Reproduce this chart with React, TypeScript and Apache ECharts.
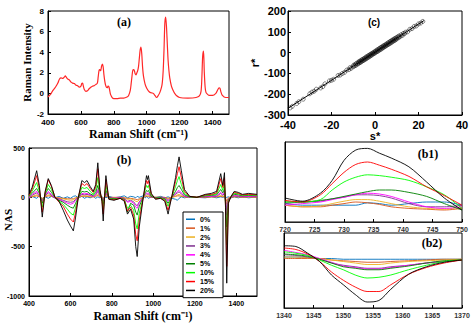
import React, { useEffect, useRef } from 'react';
import * as echarts from 'echarts';

// ---------- Panel (a): Raman spectrum ----------
const RAMAN_X = [400,415,430,445,460,470,480,490,500,505,512,520,530,540,550,560,570,580,590,600,605,610,615,620,630,640,650,660,670,680,690,700,705,710,715,720,725,730,735,740,745,750,755,760,765,770,775,780,790,800,820,840,860,880,890,900,905,910,915,920,925,930,935,940,945,950,955,960,965,970,975,980,990,1000,1010,1020,1030,1040,1050,1060,1070,1080,1090,1095,1100,1105,1110,1115,1120,1125,1130,1135,1140,1150,1160,1170,1180,1200,1250,1300,1320,1330,1335,1340,1345,1350,1355,1360,1370,1380,1400,1420,1430,1435,1440,1445,1450,1460,1480,1500];
const RAMAN_Y = [-0.35,-0.1,0.3,0.6,1.0,1.4,1.5,1.45,1.6,1.7,1.55,1.4,1.3,1.1,1.0,0.95,0.8,0.75,0.6,0.7,0.95,1.0,0.7,0.4,0.2,0.25,0.45,0.6,0.7,0.75,0.85,1.0,1.6,2.2,2.3,2.2,2.6,2.85,2.6,1.8,1.2,0.8,0.6,0.55,0.7,0.65,0.3,-0.1,-0.4,-0.5,-0.5,-0.45,-0.45,-0.35,-0.2,0.3,0.9,1.6,2.2,2.3,2.2,1.9,1.8,2.0,2.2,2.6,3.4,4.2,4.5,3.8,2.5,1.7,0.9,0.5,0.25,0.1,0.05,0.0,-0.2,-0.4,-0.2,0.1,0.6,1.1,2.2,4.2,6.8,7.4,6.5,4.8,3.2,2.2,1.5,0.7,0.3,0.0,-0.2,-0.4,-0.45,-0.4,-0.25,0.2,1.5,3.6,4.1,2.0,0.6,0.1,-0.1,-0.2,-0.2,0.0,0.3,0.45,0.55,0.5,0.2,-0.2,-0.4,-0.4];

// ---------- Legend / concentrations ----------
const LABELS = ['0%', '1%', '2%', '3%', '4%', '5%', '10%', '15%', '20%'];
const COLORS = ['#0072BD', '#D95319', '#EDB120', '#7E2F8E', '#FF00FF', '#008000', '#00FF00', '#FF0000', '#000000'];

// ---------- Panel (b): NAS ----------
const NAS_X = [400,415,437,450,464,478,493,508,525,545,565,585,600,614,625,638,655,668,680,695,710,722,732,742,752,758,765,771,785,810,840,860,875,890,905,915,922,932,950,962,967,972,976,990,1010,1035,1055,1071,1090,1107,1116,1124,1135,1150,1175,1210,1250,1280,1305,1325,1335,1343,1348,1354,1362,1375,1390,1410,1430,1460,1500];
const NAS_0 = [-5,10,-10,15,-15,5,-10,10,-5,10,-10,5,-10,10,15,-5,10,-10,5,-5,10,-10,5,-5,10,-10,5,-5,10,-5,5,15,-5,10,5,-5,10,0,15,-5,10,0,-10,5,-5,10,-5,5,-10,-20,-30,-10,5,-5,5,0,-5,5,-5,5,0,5,-5,0,5,-5,5,-5,5,-5,5];
const NAS_1 = [0,5,15,5,-10,5,15,10,0,-5,-10,-15,-15,-15,-5,0,10,10,10,5,5,10,20,5,0,-10,0,10,0,0,0,-5,-10,-10,-15,-20,-25,-15,0,10,10,10,10,0,0,0,0,-10,0,10,15,15,10,5,0,0,0,5,5,10,5,10,-5,-40,-5,0,5,5,0,5,0];
const NAS_2 = [5,10,25,10,-15,10,25,15,0,-10,-15,-25,-30,-25,-10,5,15,15,15,10,5,15,35,10,0,-15,5,20,0,-5,0,-5,-20,-15,-25,-40,-45,-25,0,15,20,15,20,5,0,0,-5,-15,0,15,25,30,20,5,0,0,5,5,5,20,10,20,-10,-70,-10,0,10,5,5,5,5];
const NAS_3 = [-10,20,45,15,-30,15,45,20,-5,-15,-30,-45,-50,-45,-20,0,30,25,30,20,10,25,60,15,-5,-30,5,35,0,-10,-5,-10,-40,-30,-45,-75,-85,-45,0,25,35,30,35,5,0,0,-5,-30,5,30,45,55,35,10,0,0,5,10,10,40,20,40,-20,-130,-15,0,15,10,5,10,5];
const NAS_4 = [0,30,60,20,-40,20,60,30,-10,-20,-40,-60,-70,-60,-30,0,40,35,40,25,10,30,80,20,-10,-40,5,45,-5,-10,-5,-15,-50,-40,-60,-100,-110,-60,0,35,45,40,45,5,-5,0,-10,-40,5,40,60,70,45,15,0,0,10,10,15,50,30,55,-25,-180,-20,0,20,15,10,10,10];
const NAS_5 = [10,40,90,40,-60,30,90,50,0,-30,-50,-80,-100,-110,-60,0,60,55,60,35,20,50,120,30,-10,-70,5,70,-5,-15,-10,-20,-150,-60,-80,-150,-180,-90,-5,50,70,60,70,10,-5,-5,-15,-60,5,60,100,120,80,25,5,0,15,20,25,80,45,85,-40,-300,-30,5,30,25,15,20,15];
const NAS_10 = [15,60,150,60,-100,40,130,80,0,-40,-70,-120,-160,-180,-100,0,100,90,100,60,30,80,200,50,-20,-120,10,120,-10,-20,-10,-25,-110,-80,-130,-270,-320,-160,-10,90,120,100,120,20,-10,-5,-20,-90,10,110,170,210,130,40,5,0,20,25,35,130,70,140,-60,-480,-40,5,40,35,20,25,20];
const NAS_15 = [20,80,220,90,-150,50,180,110,5,-50,-90,-170,-220,-250,-150,5,140,120,140,90,50,110,290,70,-30,-170,15,180,-15,-25,-10,-30,-140,-100,-180,-380,-440,-230,-15,120,170,140,170,30,-15,-10,-30,-130,15,160,240,310,200,60,10,0,25,30,45,190,100,200,-80,-700,-50,10,50,40,25,30,25];
const NAS_20 = [30,100,270,120,-200,60,190,120,0,-40,-130,-230,-290,-340,-200,0,170,150,170,110,60,130,350,80,-40,-240,20,220,-20,-30,-10,-40,-170,-120,-220,-500,-600,-300,-20,150,220,180,220,40,-20,-10,-40,-170,20,200,320,410,270,80,10,0,30,40,60,240,120,250,-100,-870,-60,10,60,50,30,40,30];
const NAS_SERIES = [NAS_0, NAS_1, NAS_2, NAS_3, NAS_4, NAS_5, NAS_10, NAS_15, NAS_20];

// ---------- Panel (b1): zoom 720-750 ----------
const B1_X = [720,723,726,728,730,732,734,736,738,741,744,747,750];
const B1_0 = [23,21,21,21,21,21,24,23,21,23,25,25,21];
const B1_1 = [21,19,19,21,23,25,24,22,19,17,16,15,17];
const B1_2 = [21,19,20,23,26,28,28,26,23,19,17,16,19];
const B1_3 = [23,25,26,29,31,34,34,33,30,23,19,19,21];
const B1_4 = [21,23,25,28,31,34,36,35,32,25,19,17,19];
const B1_5 = [25,25,27,29,32,35,38,40,40,37,32,23,15];
const B1_10 = [25,25,28,40,50,56,59,58,56,52,44,34,17];
const B1_15 = [27,25,34,48,62,72,75,71,66,57,44,33,21];
const B1_20 = [30,26,36,52,77,90,92,86,80,69,50,30,15];
const B1_SERIES = [B1_0, B1_1, B1_2, B1_3, B1_4, B1_5, B1_10, B1_15, B1_20];

// ---------- Panel (b2): zoom 1340-1370 ----------
const B2_X = [1340,1342,1344,1346,1348,1350,1352,1354,1356,1358,1361,1364,1367,1370];
const B2_0 = [68,68,67,66,66,65,65,65,65,65,65,65,65,65];
const B2_1 = [66,66,66,66,64,63,62,61,61,62,63,64,65,65];
const B2_2 = [68,68,67,66,64,62,60,58,58,60,62,63,64,65];
const B2_3 = [71,70,68,65,60,57,55,53,53,55,57,60,62,64];
const B2_4 = [77,74,71,66,61,56,54,52,52,54,57,60,62,64];
const B2_5 = [72,71,69,65,60,55,53,51,51,53,56,60,63,64];
const B2_10 = [75,73,70,64,57,51,44,40,41,44,51,57,62,64];
const B2_15 = [80,78,72,62,48,37,28,22,22,31,45,54,60,64];
const B2_20 = [83,82,73,62,44,31,18,8,10,25,45,55,61,64];
const B2_SERIES = [B2_0, B2_1, B2_2, B2_3, B2_4, B2_5, B2_10, B2_15, B2_20];

// ---------- Panel (c): r* vs s* ----------
const SCAT_S = [-39,-38,-36,-35,-33,-30,-29,-28,-27,-25,-24,-23,-21,-20,-19,-17,-16,-15,-14,-13,-12,-11.5,-11,-10,-9.8,-9.5,-9,-8.8,-8.5,-8,-7.8,-7.5,-7.2,-7,-6.8,-6.5,-6.2,-6,-5.8,-5.5,-5.2,-5,-4.8,-4.5,-4.2,-4,-3.8,-3.5,-3.2,-3,-2.8,-2.5,-2.2,-2,-1.8,-1.5,-1.2,-1,-0.8,-0.5,-0.2,0,0.2,0.5,0.8,1,1.2,1.5,1.8,2,2.2,2.5,2.8,3,3.2,3.5,3.8,4,4.2,4.5,4.8,5,5.2,5.5,5.8,6,6.2,6.5,6.8,7,7.2,7.5,7.8,8,8.2,8.5,8.8,9,9.2,9.5,9.8,10,10.5,10.8,11,11.5,12,12.5,13,13.5,14,15,16,17,18,19,20,21,22];
const SCAT_R = [-266,-258,-245,-236,-224,-198,-190,-186,-176,-170,-164,-150,-136,-133,-128,-110,-108,-100,-95,-84,-82,-72,-76,-68,-60,-64,-56,-62,-52,-55,-46,-52,-42,-48,-40,-46,-36,-42,-33,-38,-30,-36,-27,-32,-22,-29,-20,-25,-16,-22,-13,-19,-9,-15,-6,-12,-3,-8,0,-5,4,-2,7,2,11,5,14,8,18,12,21,15,25,18,28,22,32,25,34,29,38,32,41,35,45,39,48,42,52,45,55,49,58,52,62,56,65,58,68,62,72,66,76,71,80,76,86,82,92,90,98,100,112,115,126,128,138,142,150];
const FIT_S = [-40, 22.5];
const FIT_R = [-268, 154];

const SANS = 'Liberation Sans, Arial, sans-serif';
const SERIF = 'Liberation Serif, Times New Roman, serif';

function zip(xs: number[], ys: number[]) {
  return xs.map((x, i) => [x, ys[i]]);
}

function axis(gridIndex: number, min: number, max: number, interval: number, extra: any = {}) {
  return {
    type: 'value',
    gridIndex,
    min,
    max,
    interval,
    axisLine: { show: true, onZero: false, lineStyle: { color: '#000', width: 1 } },
    axisTick: { show: true, inside: true, length: 3, lineStyle: { color: '#000' } },
    splitLine: { show: false },
    ...extra,
  };
}

export default function App() {
  const ref = useRef<HTMLDivElement>(null);
  useEffect(() => {
    if (!ref.current) return;
    const chart = echarts.init(ref.current, undefined, { renderer: 'svg' });

    const grids = [
      { left: 48, top: 11, width: 181, height: 103 },
      { left: 288, top: 11, width: 174, height: 104 },
      { left: 29, top: 148, width: 228, height: 149 },
      { left: 285, top: 142, width: 177, height: 80 },
      { left: 284, top: 233, width: 178, height: 75 },
    ].map((g) => ({ ...g, show: true, borderColor: '#000', borderWidth: 1, backgroundColor: '#fff' }));

    const tickLbl = (size: number, color = '#000') => ({
      fontSize: size,
      fontWeight: 'bold',
      fontFamily: SANS,
      color,
    });
    const plain = (v: number) => String(v);
    const no1500 = (v: number) => (v === 1500 ? '' : String(v));

    const xAxis = [
      axis(0, 400, 1500, 200, {
        axisLabel: { ...tickLbl(8), margin: 4, showMaxLabel: false, formatter: no1500 },
        name: 'Raman Shift (cm⁻¹)',
        nameLocation: 'middle',
        nameGap: 14,
        nameTextStyle: { fontFamily: SERIF, fontWeight: 'bold', fontSize: 12, color: '#000' },
      }),
      axis(1, -40, 40, 20, {
        axisLabel: { ...tickLbl(11), margin: 4, formatter: plain },
        name: 's*',
        nameLocation: 'middle',
        nameGap: 15,
        nameTextStyle: { fontFamily: SANS, fontWeight: 'bold', fontSize: 11, color: '#000' },
      }),
      axis(2, 400, 1500, 200, {
        axisLabel: { ...tickLbl(7), margin: 4, showMaxLabel: false, formatter: no1500 },
        name: 'Raman Shift (cm⁻¹)',
        nameLocation: 'middle',
        nameGap: 14,
        nameTextStyle: { fontFamily: SERIF, fontWeight: 'bold', fontSize: 12, color: '#000' },
      }),
      axis(3, 720, 750, 5, {
        axisLabel: { ...tickLbl(7, '#333'), margin: 4, formatter: plain },
        axisLine: { show: true, onZero: false, lineStyle: { color: '#222', width: 1 } },
      }),
      axis(4, 1340, 1370, 5, {
        axisLabel: { ...tickLbl(7, '#333'), margin: 4, formatter: plain },
        axisLine: { show: true, onZero: false, lineStyle: { color: '#222', width: 1 } },
      }),
    ];

    const yAxis = [
      axis(0, -2, 8, 2, {
        axisLabel: { ...tickLbl(8), margin: 4, formatter: plain },
        name: 'Raman Intensity',
        nameLocation: 'middle',
        nameGap: 10,
        nameTextStyle: { fontFamily: SERIF, fontWeight: 'bold', fontSize: 11, color: '#000' },
      }),
      axis(1, -300, 200, 100, {
        axisLabel: { ...tickLbl(11), margin: 2, formatter: plain },
        name: 'r*',
        nameLocation: 'middle',
        nameGap: 20,
        nameTextStyle: { fontFamily: SANS, fontWeight: 'bold', fontSize: 11, color: '#000' },
      }),
      axis(2, -1000, 500, 500, {
        axisLabel: { ...tickLbl(7), margin: 4, formatter: plain, showMinLabel: true, showMaxLabel: true, hideOverlap: false },
      }),
      axis(3, 0, 100, 25, { axisLabel: { show: false }, axisTick: { show: false } }),
      axis(4, 0, 100, 25, { axisLabel: { show: false }, axisTick: { show: false } }),
    ];

    const series: any[] = [
      {
        type: 'line',
        xAxisIndex: 0,
        yAxisIndex: 0,
        data: zip(RAMAN_X, RAMAN_Y),
        symbol: 'none',
        smooth: 0.3,
        lineStyle: { color: '#FF2828', width: 1.2 },
        silent: true,
      },
      {
        type: 'scatter',
        xAxisIndex: 1,
        yAxisIndex: 1,
        data: zip(SCAT_S, SCAT_R),
        symbol: 'circle',
        symbolSize: 4,
        itemStyle: { color: 'rgba(255,255,255,0)', borderColor: '#000', borderWidth: 0.6 },
        silent: true,
      },
      {
        type: 'line',
        xAxisIndex: 1,
        yAxisIndex: 1,
        data: zip(FIT_S, FIT_R),
        symbol: 'none',
        lineStyle: { color: '#000', width: 1 },
        silent: true,
      },
    ];

    const addSet = (idx: number, xs: number[], sets: number[][], smooth: number) => {
      sets.forEach((ys, i) => {
        series.push({
          type: 'line',
          name: LABELS[i],
          xAxisIndex: idx,
          yAxisIndex: idx,
          data: zip(xs, ys),
          symbol: 'none',
          showSymbol: false,
          smooth,
          lineStyle: { color: COLORS[i], width: 0.9 },
          itemStyle: { color: COLORS[i] },
          silent: true,
        });
      });
    };
    addSet(2, NAS_X, NAS_SERIES, 0);
    addSet(3, B1_X, B1_SERIES, 0.3);
    addSet(4, B2_X, B2_SERIES, 0.3);

    const panelLabel = (text: string, x: number, y: number, font: string, size: number, rotation = 0) => ({
      type: 'text',
      x,
      y,
      rotation,
      style: {
        text,
        fontFamily: font,
        fontWeight: 'bold',
        fontSize: size,
        fill: '#000',
        align: 'center',
        verticalAlign: 'middle',
      },
      z: 100,
    });

    chart.setOption({
      animation: false,
      backgroundColor: '#fff',
      grid: grids,
      xAxis,
      yAxis,
      series,
      legend: {
        data: LABELS.map((n) => ({ name: n, icon: 'rect' })),
        orient: 'vertical',
        left: 183,
        top: 212,
        itemWidth: 9,
        itemHeight: 1.5,
        itemGap: 0.4,
        itemTextGap: 4,
        padding: [3, 9, 3, 3],
        backgroundColor: '#fff',
        borderColor: '#000',
        borderWidth: 1,
        borderRadius: 0,
        selectedMode: false,
        textStyle: { fontSize: 7, fontWeight: 'bold', fontFamily: SANS, color: '#000', lineHeight: 8.5 },
      },
      graphic: [
        panelLabel('(a)', 124, 22, SERIF, 12),
        panelLabel('(c)', 374, 22, SANS, 10),
        panelLabel('(b)', 124, 160, SERIF, 12),
        panelLabel('(b1)', 428, 154, SERIF, 12),
        panelLabel('(b2)', 432, 243, SERIF, 12),
        panelLabel('NAS', 8, 220, SERIF, 11, Math.PI / 2),
      ],
    });
    return () => chart.dispose();
  }, []);

  return <div ref={ref} style={{ position: 'fixed', left: 0, top: 0, width: 474, height: 323 }} />;
}
